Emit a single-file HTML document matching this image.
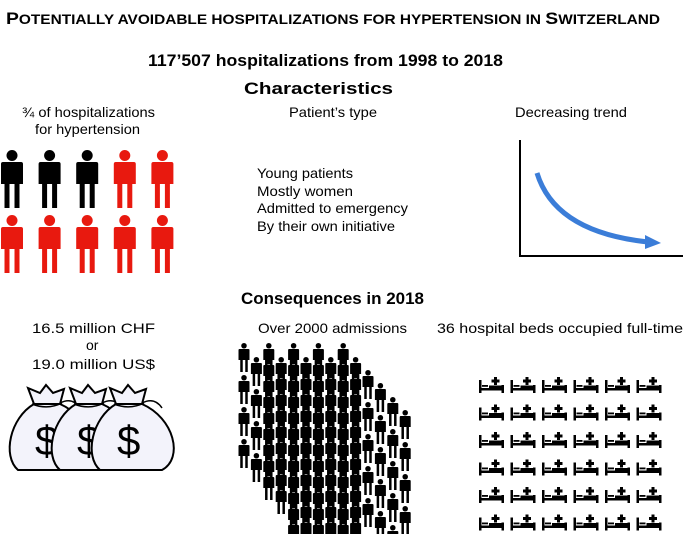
<!DOCTYPE html>
<html><head><meta charset="utf-8"><style>
html,body{margin:0;padding:0;background:#fff;}
svg{display:block;font-family:"Liberation Sans",Arial,sans-serif;}
</style></head><body>
<svg id="fig" width="685" height="534" viewBox="0 0 685 534">
<text x="6" y="24" font-size="17" font-weight="bold" textLength="654" lengthAdjust="spacingAndGlyphs">P<tspan font-size="13.5">OTENTIALLY AVOIDABLE HOSPITALIZATIONS FOR HYPERTENSION IN </tspan>S<tspan font-size="13.5">WITZERLAND</tspan></text>
<text x="148" y="66" font-size="17" font-weight="bold" textLength="355" lengthAdjust="spacingAndGlyphs">117’507 hospitalizations from 1998 to 2018</text>
<text x="244" y="94" font-size="17" font-weight="bold" textLength="149" lengthAdjust="spacingAndGlyphs">Characteristics</text>
<text x="22" y="117" font-size="14" textLength="133" lengthAdjust="spacingAndGlyphs">¾ of hospitalizations</text>
<text x="35" y="134" font-size="14" textLength="105" lengthAdjust="spacingAndGlyphs">for hypertension</text>
<text x="289" y="117" font-size="14" textLength="88" lengthAdjust="spacingAndGlyphs">Patient’s type</text>
<text x="515" y="117" font-size="14" textLength="112" lengthAdjust="spacingAndGlyphs">Decreasing trend</text>
<g font-size="14">
<text x="257" y="178" textLength="96" lengthAdjust="spacingAndGlyphs">Young patients</text>
<text x="257" y="196" textLength="96" lengthAdjust="spacingAndGlyphs">Mostly women</text>
<text x="257" y="213" textLength="151" lengthAdjust="spacingAndGlyphs">Admitted to emergency</text>
<text x="257" y="231" textLength="138" lengthAdjust="spacingAndGlyphs">By their own initiative</text>
</g>
<g id="people"></g>
<g>
<path d="M520,140 V256 H683" fill="none" stroke="#000" stroke-width="2"/>
<path d="M537,173 Q555,232 648,242" fill="none" stroke="#3b7dd8" stroke-width="5"/>
<path d="M645,235 L661,243 L645,249 Z" fill="#3b7dd8"/>
</g>
<text x="241" y="304" font-size="17" font-weight="bold" textLength="183" lengthAdjust="spacingAndGlyphs">Consequences in 2018</text>
<text x="32" y="333" font-size="14" textLength="123" lengthAdjust="spacingAndGlyphs">16.5 million CHF</text>
<text x="86" y="350" font-size="14">or</text>
<text x="32" y="369" font-size="14" textLength="123" lengthAdjust="spacingAndGlyphs">19.0 million US$</text>
<text x="258" y="333" font-size="14" textLength="149" lengthAdjust="spacingAndGlyphs">Over 2000 admissions</text>
<text x="437" y="333" font-size="14" textLength="246" lengthAdjust="spacingAndGlyphs">36 hospital beds occupied full-time</text>
<g id="bags"></g>
<g id="crowd"></g>
<g id="beds"></g>
</svg>
<script>
const NS="http://www.w3.org/2000/svg";
const peopleColors=["#000","#000","#000","#e8190f","#e8190f","#e8190f","#e8190f","#e8190f","#e8190f","#e8190f"];
function person(g,cx,top,h,color){
  const s=h/58;
  const p=document.createElementNS(NS,"path");
  const d=`M${cx-9*s},${top+12*s} h${18*s} a${2*s},${2*s} 0 0 1 ${2*s},${2*s} v${20*s} h${-3.5*s} v${24*s} h${-5*s} v${-24*s} h${-5*s} v${24*s} h${-5*s} v${-24*s} h${-3.5*s} v${-20*s} a${2*s},${2*s} 0 0 1 ${2*s},${-2*s}z`;
  p.setAttribute("d",d);p.setAttribute("fill",color);
  
  
  g.appendChild(p);
  const c=document.createElementNS(NS,"circle");
  c.setAttribute("cx",cx);c.setAttribute("cy",top+5.5*s);c.setAttribute("r",5.5*s);c.setAttribute("fill",color);
  
  
  g.appendChild(c);
}
const pg=document.getElementById("people");
peopleColors.forEach((col,i)=>{person(pg,12+(i%5)*37.6,150+Math.floor(i/5)*65,58,col);});

// crowd
const colTops=[343,357,343,357,343,357,343,357,343,357,370,383,397,410];
const colBottoms=[470,478,492,505,534,534,534,534,534,534,534,534,534,534];
const cg=document.getElementById("crowd");
colTops.forEach((t,i)=>{
  const cx=244+i*12.4;
  for(let y=t;y<colBottoms[i]-8;y+=(i>=2&&i<=9?16:32)){
    person(cg,cx,y,29,"#000");
  }
});

// beds
const bg=document.getElementById("beds");
for(let r=0;r<6;r++)for(let c=0;c<6;c++){
  const x=479+c*31.5,y=376+r*27.5;
  const g=document.createElementNS(NS,"g");
  
  
  g.innerHTML=`<rect x="${x}" y="${y+4}" width="2.5" height="13"/><rect x="${x}" y="${y+12}" width="25" height="2.5"/><rect x="${x+22.5}" y="${y+9}" width="2.5" height="8"/><rect x="${x+3}" y="${y+9}" width="6" height="1.8"/><rect x="${x+10}" y="${y+9.5}" width="13" height="2.5"/><path d="M${x+15},${y+1}h3v2.5h2.5v3h-2.5v2.5h-3v-2.5h-2.5v-3h2.5z"/>`;
  bg.appendChild(g);
}

// money bags
const mg=document.getElementById("bags");
[0,42,82].forEach(dx=>{
  const x=dx+8,y=388;
  const g=document.createElementNS(NS,"g");
  
  
  g.innerHTML=`<path d="M${x+26},${y+16} C${x+2},${y+30} ${x-6},${y+68} ${x+10},${y+82} L${x+72},${y+82} C${x+94},${y+70} ${x+84},${y+30} ${x+52},${y+16} Z" fill="#f3f3fb" stroke="#000" stroke-width="2"/>
  <path d="M${x+26},${y+16} L${x+20},${y} L${x+32},${y+5} L${x+38},${y-3} L${x+45},${y+5} L${x+56},${y+1} L${x+52},${y+16} Z" fill="#f3f3fb" stroke="#000" stroke-width="2"/>
  <path d="M${x+24},${y+16} C${x+34},${y+20} ${x+44},${y+20} ${x+54},${y+15} M${x+52},${y+15} C${x+62},${y+10} ${x+68},${y+14} ${x+72},${y+20}" fill="none" stroke="#000" stroke-width="1.5"/>
  <text x="${x+27}" y="${y+67}" font-size="42" font-family="Liberation Sans,sans-serif" fill="#000">$</text>`;
  mg.appendChild(g);
});
</script>
</body></html>
